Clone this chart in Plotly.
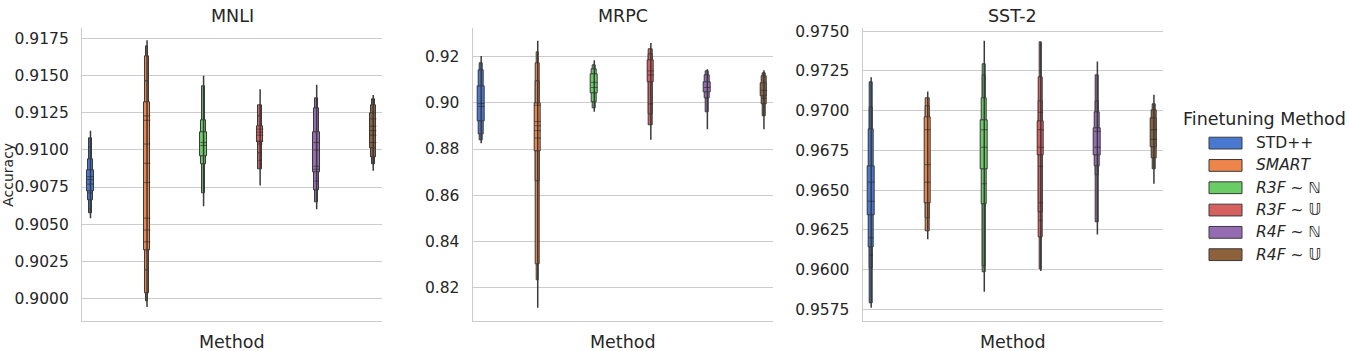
import plotly.graph_objects as go

# ---------------- data ----------------
METHODS = ["STD++", "SMART", "R3F ~ N", "R3F ~ U", "R4F ~ N", "R4F ~ U"]
LEGEND_LABELS = ["STD++", "<i>SMART</i>", "<i>R3F</i> ~ ℕ", "<i>R3F</i> ~ 𝕌",
                 "<i>R4F</i> ~ ℕ", "<i>R4F</i> ~ 𝕌"]
TASKS = ["MNLI", "MRPC", "SST-2"]
X_LABEL = "Method"
Y_LABEL = "Accuracy"
LEGEND_TITLE = "Finetuning Method"

# letter-value boxes per method, innermost level first
MNLI_BOX_LO = [[0.9072, 0.9066, 0.9060, 0.9057],
               [0.9032, 0.9019, 0.9003, 0.8998],
               [0.9096, 0.9090, 0.9071],
               [0.9105, 0.9098, 0.9087],
               [0.9085, 0.9073, 0.9065],
               [0.9101, 0.9095, 0.9090]]
MNLI_BOX_HI = [[0.9086, 0.9094, 0.9102, 0.9108],
               [0.9132, 0.9146, 0.9163, 0.9170],
               [0.9112, 0.9120, 0.9143],
               [0.9116, 0.9123, 0.9130],
               [0.9112, 0.9128, 0.9135],
               [0.9125, 0.9130, 0.9134]]
MNLI_MIN = [0.9054, 0.8994, 0.9062, 0.9076, 0.9060, 0.9086]
MNLI_MAX = [0.9113, 0.9174, 0.9150, 0.9141, 0.9144, 0.9137]
MNLI_MEDIAN = [0.9080, 0.9078, 0.9103, 0.9110, 0.9100, 0.9113]
MNLI_LINES = [[0.9082, 0.9077, 0.9071],
              [0.9123, 0.9120, 0.9104, 0.9091, 0.9054, 0.9046, 0.9038],
              [0.9105],
              [0.9114, 0.9112, 0.9106, 0.9104, 0.9093],
              [0.9105, 0.9089, 0.9087, 0.9079],
              [0.9121, 0.9116, 0.9110, 0.9105]]

MRPC_BOX_LO = [[0.8919, 0.8865, 0.8838],
               [0.8790, 0.8659, 0.8300, 0.8230],
               [0.9040, 0.9003, 0.8975],
               [0.9090, 0.8950, 0.8905],
               [0.9045, 0.9020, 0.8960],
               [0.9030, 0.8995, 0.8940]]
MRPC_BOX_HI = [[0.9071, 0.9142, 0.9170],
               [0.9000, 0.9092, 0.9170, 0.9220],
               [0.9125, 0.9145, 0.9165],
               [0.9185, 0.9210, 0.9232],
               [0.9090, 0.9120, 0.9135],
               [0.9085, 0.9115, 0.9130]]
MRPC_MIN = [0.8825, 0.8112, 0.8962, 0.8840, 0.8886, 0.8886]
MRPC_MAX = [0.9203, 0.9270, 0.9185, 0.9260, 0.9146, 0.9142]
MRPC_MEDIAN = [0.8985, 0.8880, 0.9089, 0.9121, 0.9067, 0.9055]
MRPC_LINES = [[0.8998],
              [0.8990, 0.8919, 0.8901, 0.8848],
              [0.9067],
              [0.9139, 0.8996],
              [],
              [0.9020]]

SST2_BOX_LO = [[0.9634, 0.9614, 0.9601, 0.9579],
               [0.9642, 0.9632, 0.9624],
               [0.9663, 0.9641, 0.9602, 0.9598],
               [0.9672, 0.9636, 0.9620, 0.9600],
               [0.9672, 0.9665, 0.9659, 0.9630],
               [0.9677, 0.9670, 0.9663]]
SST2_BOX_HI = [[0.9665, 0.9688, 0.9702, 0.9718],
               [0.9696, 0.9703, 0.9708],
               [0.9694, 0.9708, 0.9722, 0.9729],
               [0.9693, 0.9706, 0.9721, 0.9743],
               [0.9689, 0.9699, 0.9706, 0.9722],
               [0.9695, 0.9700, 0.9704]]
SST2_MIN = [0.9576, 0.9619, 0.9586, 0.9599, 0.9622, 0.9654]
SST2_MAX = [0.9721, 0.9712, 0.9744, 0.9743, 0.9731, 0.9710]
SST2_MEDIAN = [0.9643, 0.9655, 0.9677, 0.9677, 0.9677, 0.9688]
SST2_LINES = [[0.9655, 0.9620, 0.9609],
              [0.9688, 0.9666],
              [0.9688, 0.9654],
              [0.9699, 0.9688, 0.9665, 0.9642, 0.9631],
              [0.9687],
              [0.9682]]

MNLI_TICKS = [0.9000, 0.9025, 0.9050, 0.9075, 0.9100, 0.9125, 0.9150, 0.9175]
MRPC_TICKS = [0.82, 0.84, 0.86, 0.88, 0.90, 0.92]
SST2_TICKS = [0.9575, 0.9600, 0.9625, 0.9650, 0.9675, 0.9700, 0.9725, 0.9750]

# ---------------- style ----------------
W, H = 1349, 351
COLORS = ["#4878d0", "#ee854a", "#6acc64", "#d65f5f", "#956cb4", "#8c613c"]
EDGE = "#3a3a3a"
TEXT = "#262626"
GRID = "#cccccc"
FONT = "DejaVu Sans"
LEVEL_W = [0.115, 0.082, 0.060, 0.044]   # box widths (x units) per level
X_RANGE = [-0.15, 5.155]

task_data = [
    (MNLI_BOX_LO, MNLI_BOX_HI, MNLI_MIN, MNLI_MAX, MNLI_MEDIAN, MNLI_LINES,
     MNLI_TICKS, "{:.4f}", [0.898449, 0.918203]),
    (MRPC_BOX_LO, MRPC_BOX_HI, MRPC_MIN, MRPC_MAX, MRPC_MEDIAN, MRPC_LINES,
     MRPC_TICKS, "{:.2f}", [0.80534, 0.93236]),
    (SST2_BOX_LO, SST2_BOX_HI, SST2_MIN, SST2_MAX, SST2_MEDIAN, SST2_LINES,
     SST2_TICKS, "{:.4f}", [0.956745, 0.975186]),
]
PANEL_X = [(82, 382), (472.7, 772.7), (862.7, 1162.7)]
PANEL_Y = (22.7, 320.7)


def px(p):
    return p / W


def py(p):
    return 1 - p / H


fig = go.Figure()
annotations = []
shapes = []
positions = list(range(len(METHODS)))

for k, (lo, hi, mn, mx, med, lines, ticks, fmt, yr) in enumerate(task_data):
    xa = "x" if k == 0 else f"x{k+1}"
    ya = "y" if k == 0 else f"y{k+1}"

    # whiskers
    wx, wy = [], []
    for i in positions:
        wx += [i, i, None]
        wy += [mn[i], mx[i], None]
    fig.add_trace(go.Scatter(x=wx, y=wy, mode="lines", xaxis=xa, yaxis=ya,
                             line=dict(color=EDGE, width=1.5),
                             hoverinfo="skip", showlegend=False))

    nlev = max(len(v) for v in lo)
    for j in range(nlev - 1, -1, -1):
        xs, hs, bs, cs = [], [], [], []
        for i in positions:
            if j < len(lo[i]):
                xs.append(i)
                bs.append(lo[i][j])
                hs.append(hi[i][j] - lo[i][j])
                cs.append(COLORS[i])
        fig.add_trace(go.Bar(x=xs, y=hs, base=bs, width=LEVEL_W[j],
                             xaxis=xa, yaxis=ya,
                             marker=dict(color=cs, line=dict(color=EDGE, width=1)),
                             showlegend=False, hoverinfo="skip"))

    # median and inner lines
    lx, ly = [], []
    for i in positions:
        for yv in [med[i]] + lines[i]:
            w = LEVEL_W[len(lo[i]) - 1] * 0.6
            for j in range(len(lo[i])):
                if lo[i][j] <= yv <= hi[i][j]:
                    w = LEVEL_W[j]
                    break
            lx += [i - w / 2, i + w / 2, None]
            ly += [yv, yv, None]
    fig.add_trace(go.Scatter(x=lx, y=ly, mode="lines", xaxis=xa, yaxis=ya,
                             line=dict(color="rgba(38,38,38,0.62)", width=1),
                             hoverinfo="skip", showlegend=False))

    x0, x1 = PANEL_X[k]
    axis_common = dict(showline=True, linecolor=GRID, linewidth=1.25,
                       zeroline=False, fixedrange=True)
    fig.layout[f"xaxis{'' if k == 0 else k+1}"] = dict(
        domain=[px(x0), px(x1)], range=X_RANGE, showgrid=False,
        showticklabels=False, ticks="", anchor=ya, **axis_common)
    fig.layout[f"yaxis{'' if k == 0 else k+1}"] = dict(
        domain=[py(PANEL_Y[1]), py(PANEL_Y[0])], range=yr, anchor=xa,
        tickvals=ticks, ticktext=[fmt.format(t) for t in ticks],
        showgrid=True, gridcolor=GRID, gridwidth=1,
        ticks="outside", ticklen=9, tickcolor="rgba(0,0,0,0)",
        tickfont=dict(family=FONT, size=15.5, color=TEXT), **axis_common)

    cx = (x0 + x1) / 2
    annotations.append(dict(text=TASKS[k], x=px(cx), y=py(10), xref="paper",
                            yref="paper", showarrow=False, xanchor="center",
                            yanchor="middle",
                            font=dict(family=FONT, size=17.5, color=TEXT)))
    annotations.append(dict(text=X_LABEL, x=px(cx), y=py(341.5), xref="paper",
                            yref="paper", showarrow=False, xanchor="center",
                            yanchor="middle",
                            font=dict(family=FONT, size=17.5, color=TEXT)))

annotations.append(dict(text=Y_LABEL, x=px(-1), y=py(171.7), xref="paper",
                        yref="paper", showarrow=False, xanchor="left",
                        yanchor="middle", textangle=-90, borderpad=0,
                        font=dict(family=FONT, size=14, color=TEXT)))

# legend (drawn manually to match wide swatches)
annotations.append(dict(text=LEGEND_TITLE, x=px(1264), y=py(115), xref="paper",
                        yref="paper", showarrow=False, xanchor="center",
                        yanchor="middle",
                        font=dict(family=FONT, size=17.5, color=TEXT)))
for i, lab in enumerate(LEGEND_LABELS):
    cy = 139.5 + 22.7 * i
    shapes.append(dict(type="rect", xref="paper", yref="paper",
                       x0=px(1209), x1=px(1242), y0=py(cy + 6), y1=py(cy - 6),
                       fillcolor=COLORS[i], line=dict(color=EDGE, width=1)))
    annotations.append(dict(text=lab, x=px(1254), y=py(cy), xref="paper",
                            yref="paper", showarrow=False, xanchor="left",
                            yanchor="middle",
                            font=dict(family=FONT, size=15.5, color=TEXT)))

fig.update_layout(width=W, height=H, margin=dict(l=0, r=0, t=0, b=0),
                  paper_bgcolor="white", plot_bgcolor="white",
                  barmode="overlay", bargap=0, showlegend=False,
                  annotations=annotations, shapes=shapes,
                  font=dict(family=FONT, color=TEXT))

fig.write_html("out.html", config={"displayModeBar": False},
               post_script="document.body.style.margin='0px';"
                           "document.body.style.overflow='hidden';")
